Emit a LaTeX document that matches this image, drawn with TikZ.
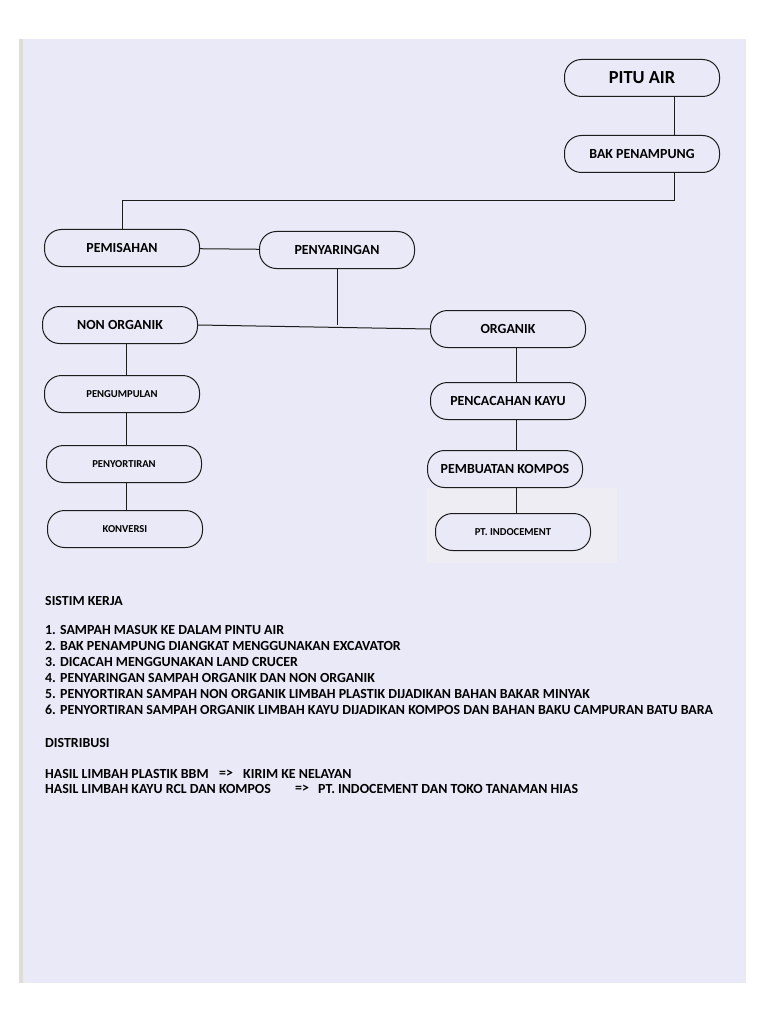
\documentclass[tikz,border=0pt]{standalone}
\usepackage{fontspec}
\setmainfont{Carlito}
\usetikzlibrary{positioning}
\definecolor{paper}{RGB}{233,233,247}
\definecolor{patch}{RGB}{237,237,243}
\definecolor{edge}{RGB}{222,222,214}
\definecolor{ink}{RGB}{28,28,28}

\begin{document}
\begin{tikzpicture}[
  x=1pt, y=-1pt,
  flow/.style={rectangle, draw=ink, line width=1pt, rounded corners=17pt, fill=paper, minimum width=155pt, minimum height=37pt, align=center, font=\fontsize{13.9}{16}\selectfont\bfseries},
  small/.style={flow, font=\fontsize{10.6}{12}\selectfont\bfseries},
  big/.style={flow, font=\fontsize{18.4}{21}\selectfont\bfseries},
  txt/.style={anchor=west, inner sep=0pt, font=\fontsize{13.9}{16}\selectfont\bfseries},
  link/.style={draw=ink, line width=1pt}
]
\useasboundingbox (0,0) rectangle (768,1024);
\fill[white] (0,0) rectangle (768,1024);
\fill[paper] (19,39) rectangle (746,983);
\fill[edge] (19,39) rectangle (23,983);
\fill[patch] (427,488) rectangle (617,563);

% flow chart
\node[big] (pitu) at (642,78) {PITU AIR};
\node[flow] (bak) at (642,154) {BAK PENAMPUNG};
\node[flow] (pem) at (122,248) {PEMISAHAN};
\node[flow] (peny) at (337,250) {PENYARINGAN};
\node[flow] (non) at (120,325) {NON ORGANIK};
\node[flow] (org) at (508,329) {ORGANIK};
\node[small] (kum) at (122,394) {PENGUMPULAN};
\node[small] (sort) at (124,464) {PENYORTIRAN};
\node[small] (konv) at (125,529) {KONVERSI};
\node[flow] (cacah) at (508,401) {PENCACAHAN KAYU};
\node[flow] (kompos) at (505,469) {PEMBUATAN KOMPOS};
\node[small] (indo) at (513,532) {PT. INDOCEMENT};

\coordinate (rx) at (674,0);
\coordinate (kx) at (126,0);
\coordinate (ox) at (516,0);
\draw[link] (pitu.south -| rx) -- (bak.north -| rx);
\draw[link] (bak.south -| rx) -- ++(0,28) -| (pem.north);
\draw[link] (pem) -- (peny);
\draw[link] (non.east) -- (org.west);
\draw[link] (peny.south) -- (peny.south |- non.east);
\draw[link] (non.south -| kx) -- (kum.north -| kx);
\draw[link] (kum.south -| kx) -- (sort.north -| kx);
\draw[link] (sort.south -| kx) -- (konv.north -| kx);
\draw[link] (org.south -| ox) -- (cacah.north -| ox);
\draw[link] (cacah.south -| ox) -- (kompos.north -| ox);
\draw[link] (kompos.south -| ox) -- (indo.north -| ox);

% keterangan
\node[txt] (judul) at (45,601) {SISTIM KERJA};
\node[txt] (k1) at (45,630) {1. SAMPAH MASUK KE DALAM PINTU AIR};
\node[txt] (k2) at (45,646) {2. BAK PENAMPUNG DIANGKAT MENGGUNAKAN EXCAVATOR};
\node[txt] (k3) at (45,662) {3. DICACAH MENGGUNAKAN LAND CRUCER};
\node[txt] (k4) at (45,678) {4. PENYARINGAN SAMPAH ORGANIK DAN NON ORGANIK};
\node[txt] (k5) at (45,694) {5. PENYORTIRAN SAMPAH NON ORGANIK LIMBAH PLASTIK DIJADIKAN BAHAN BAKAR MINYAK};
\node[txt] (k6) at (45,710) {6. PENYORTIRAN SAMPAH ORGANIK LIMBAH KAYU DIJADIKAN KOMPOS DAN BAHAN BAKU CAMPURAN BATU BARA};
\node[txt] (dist) at (45,743) {DISTRIBUSI};
\node[txt] (h1) at (45,774) {HASIL LIMBAH PLASTIK BBM};
\node[txt] (a1) at (219,774) {=>};
\node[txt] (t1) at (243,774) {KIRIM KE NELAYAN};
\node[txt] (h2) at (45,789) {HASIL LIMBAH KAYU RCL DAN KOMPOS};
\node[txt] (a2) at (295,789) {=>};
\node[txt] (t2) at (318,789) {PT. INDOCEMENT DAN TOKO TANAMAN HIAS};
\end{tikzpicture}
\end{document}
